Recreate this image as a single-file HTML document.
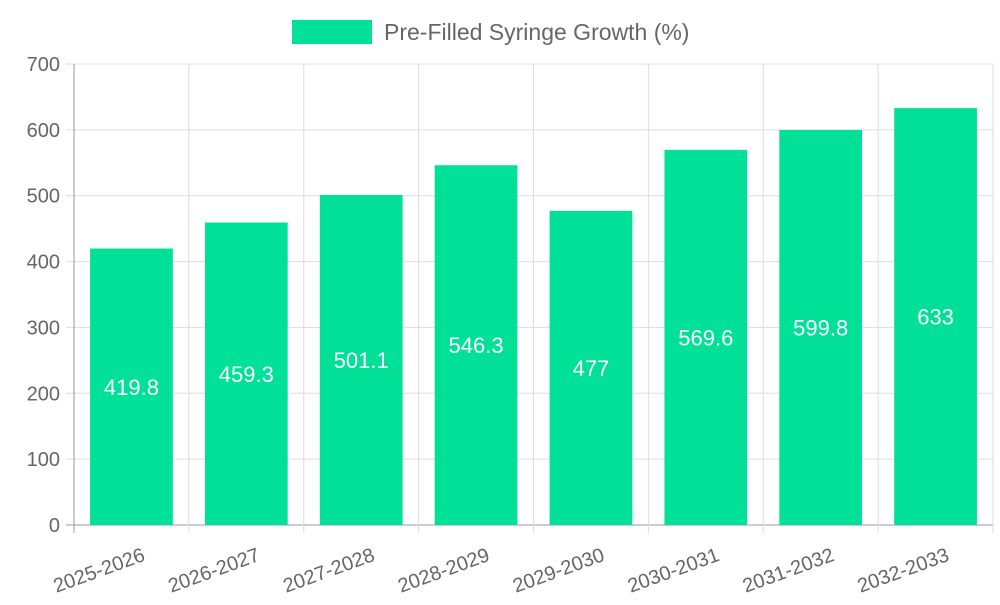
<!DOCTYPE html>
<html><head><meta charset="utf-8"><style>
body{margin:0;background:#fff;font-family:"Liberation Sans",sans-serif}
svg text{font-family:"Liberation Sans",sans-serif}
</style></head><body>
<svg id="c" width="1000" height="600">
<rect x="292" y="20" width="80" height="24" fill="#00e096"/>
<text x="384" y="40" font-size="23" fill="#666">Pre-Filled Syringe Growth (%)</text>
<g id="grid"></g><g id="bars"></g>
</svg>
<script>
const categories=["2025-2026","2026-2027","2027-2028","2028-2029","2029-2030","2030-2031","2031-2032","2032-2033"];
const values=[419.8,459.3,501.1,546.3,477,569.6,599.8,633];
const yTicks=[0,100,200,300,400,500,600,700];
const NS="http://www.w3.org/2000/svg";
const L=74,R=993,T=64,B=525,yMax=700;
const cw=(R-L)/categories.length;
const y=v=>B-(v/yMax)*(B-T);
const x=i=>L+cw*i;
const grid=document.getElementById('grid'),bars=document.getElementById('bars');
function mk(p,tag,attrs){const e=document.createElementNS(NS,tag);for(const k in attrs)e.setAttribute(k,attrs[k]);p.appendChild(e);return e;}
yTicks.forEach(t=>{
 const ln=mk(grid,'line',{x1:L-8,x2:R,y1:y(t),y2:y(t),stroke:t===0?'#999':'#ddd','stroke-width':1});
 
 
 const tx=mk(grid,'text',{x:L-14,y:y(t)+7,'text-anchor':'end','font-size':20,fill:'#666'});
 tx.textContent=t;
 
 
});
for(let i=0;i<=categories.length;i++){
 const ln=mk(grid,'line',{x1:x(i),x2:x(i),y1:T,y2:B+8,stroke:i===0?'#999':'#ddd','stroke-width':1});
 
 
}
categories.forEach((c,i)=>{
 const bw=cw*0.72,bx=x(i)+(cw-bw)/2,v=values[i];
 const r=mk(bars,'rect',{x:bx,y:y(v),width:bw,height:B-y(v),fill:'#00e096'});
 
 
 const vt=mk(bars,'text',{x:x(i)+cw/2,y:(y(v)+B)/2+8,'text-anchor':'middle','font-size':22,fill:'#fff'});
 vt.textContent=v;
 
 
 const cx=x(i)+cw/2+10,cy=B+22;
 const lt=mk(bars,'text',{x:cx,y:cy,'text-anchor':'end','font-size':20,fill:'#666',transform:`rotate(-20 ${cx} ${cy})`,dy:'0.7em'});
 lt.textContent=c;
 
 
});
</script>
</body></html>
